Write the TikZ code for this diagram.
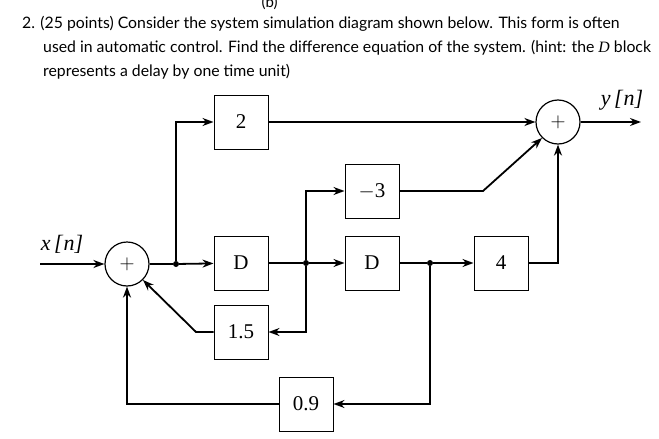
\documentclass[tikz,border=0pt]{standalone}
\usepackage{fontspec}
\setmainfont{Lato}
\newfontfamily\dia{Liberation Serif}
\usetikzlibrary{arrows.meta}
\begin{document}
\begin{tikzpicture}[x=1pt,y=-1pt,
  blk/.style={draw,line width=1pt,minimum width=54pt,minimum height=54pt,inner sep=0pt,font=\dia\fontsize{21}{23}\selectfont},
  sumn/.style={draw,circle,line width=1.2pt,minimum size=44pt,inner sep=0pt,font=\fontsize{22}{24}\selectfont},
  ln/.style={line width=1.8pt},
  ar/.style={ln,-{Stealth[length=11pt,width=8pt]}},
  dot/.style={circle,fill,inner sep=0pt,minimum size=6pt}]
\useasboundingbox (0,0) rectangle (659,439);
\node[font=\fontsize{15}{18}\selectfont,anchor=base west] at (258,7) {(b)};
\node[font=\fontsize{15.8}{24}\selectfont,anchor=north west,align=left,inner sep=0pt] (q) at (22,16)
 {2. (25 points) Consider the system simulation diagram shown below. This form is often\\
 \hspace*{21pt}used in automatic control. Find the difference equation of the system. (hint: the \textit{\dia D} block\\
 \hspace*{21pt}represents a delay by one time unit)};
\node[sumn] (s1) at (127,264) {$+$};
\node[sumn] (s2) at (558,122) {$+$};
\node[blk] (b2) at (241,122) {2};
\node[blk] (d1) at (241,263) {D};
\node[blk] (m3) at (372,191) {$-$3};
\node[blk] (d2) at (372,263) {D};
\node[blk] (b15) at (241,332) {1.5};
\node[blk] (b4) at (501,263) {4};
\node[blk] (b09) at (306,404) {0.9};
\node[dot] (j1) at (176,264) {};
\node[dot] (j2) at (306,263) {};
\node[dot] (j3) at (430,263) {};
\coordinate (xin) at (40,264);
\coordinate (yout) at (641,122);
\node[font=\dia\itshape\fontsize{22}{24}\selectfont] (xl) at (62,244) {x\,[\textup{\itshape n}]};
\node[font=\dia\itshape\fontsize{22}{24}\selectfont] (yl) at (622,100) {y\,[\textup{\itshape n}]};
\draw[ar] (xin) -- (s1);
\draw[ln] (s1) -- (j1);
\draw[ar] (j1) -- (d1);
\draw[ar] (j1) |- (b2);
\draw[ar] (b2) -- (s2);
\draw[ar] (s2) -- (yout);
\draw[ln] (d1) -- (j2);
\draw[ar] (j2) -- (d2);
\draw[ar] (j2) |- (m3);
\draw[ar] (j2) |- (b15);
\draw[ar] (m3.east) -- (483,191) -- (s2.-135);
\draw[ar] (b15.west) -- (196,332) -- (s1.-45);
\draw[ln] (d2) -- (j3);
\draw[ar] (j3) -- (b4);
\draw[ar] (j3) |- (b09);
\draw[ar] (b09.west) -| (s1.south);
\draw[ar] (b4.east) -| (s2.south);
\end{tikzpicture}
\end{document}
